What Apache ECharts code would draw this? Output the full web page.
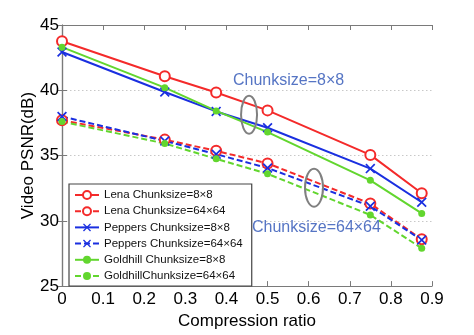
<!DOCTYPE html>
<html><head><meta charset="utf-8">
<script src="https://cdn.jsdelivr.net/npm/echarts@6/dist/echarts.min.js"></script>
<style>html,body{margin:0;padding:0;background:#fff}#c{width:474px;height:335px}</style>
</head><body><div id="c"></div>
<script>
const ratios = [0, 0.25, 0.375, 0.5, 0.75, 0.875];
const lena8 = [43.75, 41.07, 39.83, 38.46, 35.05, 32.11];
const lena64 = [37.7, 36.22, 35.36, 34.4, 31.32, 28.58];
const peppers8 = [42.93, 39.87, 38.38, 37.13, 34.0, 31.42];
const peppers64 = [37.99, 36.12, 35.1, 34.05, 31.12, 28.53];
const goldhill8 = [43.3, 40.2, 38.42, 36.8, 33.1, 30.57];
const goldhill64 = [37.6, 35.92, 34.75, 33.6, 30.45, 27.9];
const names = ['Lena Chunksize=8×8','Lena Chunksize=64×64','Peppers Chunksize=8×8','Peppers Chunksize=64×64','Goldhill Chunksize=8×8','GoldhillChunksize=64×64'];
const yTicks = [25, 30, 35, 40, 45];
const xTicks = [0, 0.1, 0.2, 0.3, 0.4, 0.5, 0.6, 0.7, 0.8, 0.9];

const RED = '#f42a2a', BLUE = '#1a2fe0', GREEN = '#62d62e';
const CROSS = 'path://M0,1.2L1.2,0L5,3.8L8.8,0L10,1.2L6.2,5L10,8.8L8.8,10L5,6.2L1.2,10L0,8.8L3.8,5Z';
const FONT = 'Liberation Sans, Arial, sans-serif';

function mk(name, vals, color, dashed, kind) {
  const s = {
    name, type: 'line', data: ratios.map((r, i) => [r, vals[i]]),
    lineStyle: {color, width: 2, type: dashed ? [6, 3] : 'solid'},
    itemStyle: {color}, emphasis: {disabled: true}, animation: false, z: 3
  };
  if (kind === 'o') { s.symbol = 'emptyCircle'; s.symbolSize = 10; s.itemStyle = {color, borderColor: color, borderWidth: 1.8}; }
  else if (kind === 'x') { s.symbol = CROSS; s.symbolSize = 10; }
  else { s.symbol = 'circle'; s.symbolSize = 7; }
  return s;
}

const chart = echarts.init(document.getElementById('c'));
const axisLine = {show: true, lineStyle: {color: '#7a7a7a', width: 1.2}};
const tick = {show: true, inside: true, length: 5, lineStyle: {color: '#7a7a7a'}};
chart.setOption({
  animation: false,
  grid: {left: 62, right: 42, top: 25, bottom: 42},
  xAxis: [{
    type: 'value', min: 0, max: 0.9, interval: 0.1, position: 'bottom',
    name: 'Compression ratio', nameLocation: 'middle', nameGap: 22,
    nameTextStyle: {fontFamily: FONT, fontSize: 17, color: '#000'},
    axisLine, axisTick: tick, splitLine: {show: false},
    axisLabel: {fontFamily: FONT, fontSize: 17, color: '#000', margin: 5,
      formatter: v => { const t = xTicks.find(x => Math.abs(x - v) < 1e-6); return t === undefined ? '' : String(t); }}
  }, {
    type: 'value', min: 0, max: 0.9, interval: 0.1, position: 'top',
    axisLine, axisTick: tick, axisLabel: {show: false}, splitLine: {show: false}
  }],
  yAxis: [{
    type: 'value', min: 25, max: 45, interval: 5, position: 'left',
    name: 'Video PSNR(dB)', nameLocation: 'middle', nameGap: 25, nameMoveOverlap: false,
    nameTextStyle: {fontFamily: FONT, fontSize: 17, color: '#000'},
    axisLine, axisTick: tick,
    splitLine: {show: true, lineStyle: {color: '#c8c8c8', type: [1.5, 2.5], width: 1}},
    axisLabel: {fontFamily: FONT, fontSize: 17, color: '#000', margin: 3,
      formatter: v => yTicks.includes(v) ? String(v) : ''}
  }, {
    type: 'value', min: 25, max: 45, interval: 5, position: 'right',
    axisLine, axisTick: tick, axisLabel: {show: false}, splitLine: {show: false}
  }],
  legend: {
    data: names, orient: 'vertical', left: 69, top: 184,
    padding: [4, 9, 3, 5], itemGap: 2.2, itemWidth: 24, itemHeight: 10,
    borderColor: '#444', borderWidth: 1.2, backgroundColor: '#fff',
    textStyle: {fontFamily: FONT, fontSize: 11.5, color: '#111', lineHeight: 14},
    selectedMode: false, z: 10
  },
  series: [
    mk(names[0], lena8, RED, false, 'o'),
    mk(names[1], lena64, RED, true, 'o'),
    mk(names[2], peppers8, BLUE, false, 'x'),
    mk(names[3], peppers64, BLUE, true, 'x'),
    mk(names[4], goldhill8, GREEN, false, '.'),
    mk(names[5], goldhill64, GREEN, true, '.')
  ]
});

// annotations placed in data coordinates
const notes = [
  {text: 'Chunksize=8×8', at: [0.416, 40.75]},
  {text: 'Chunksize=64×64', at: [0.462, 29.48]}
];
const rings = [
  {at: [0.455, 38.13], rx: 8, ry: 19},
  {at: [0.613, 32.54], rx: 9, ry: 19}
];
const g = [];
notes.forEach(n => {
  const p = chart.convertToPixel({gridIndex: 0}, n.at);
  g.push({type: 'text', x: p[0], y: p[1], z: 20,
    style: {text: n.text, fill: '#5675c4', font: '16px ' + FONT, verticalAlign: 'middle'}});
});
rings.forEach(r => {
  const p = chart.convertToPixel({gridIndex: 0}, r.at);
  g.push({type: 'ellipse', z: 20, shape: {cx: p[0], cy: p[1], rx: r.rx, ry: r.ry},
    style: {fill: 'none', stroke: '#808080', lineWidth: 2}});
});
chart.setOption({graphic: g});
</script></body></html>
